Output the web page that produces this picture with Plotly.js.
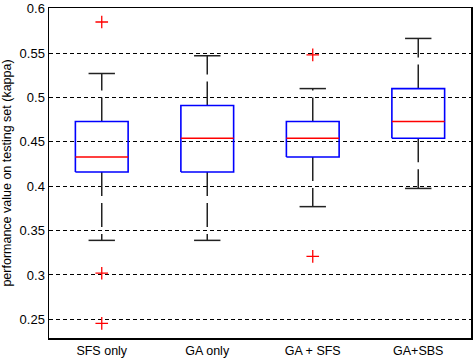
<!DOCTYPE html>
<html>
<head>
<meta charset="utf-8">
<script src="https://cdn.plot.ly/plotly-3.0.1.min.js"></script>
<style>html,body{margin:0;padding:0;background:#fff;}#chart{width:474px;height:358px;}</style>
</head>
<body>
<div id="chart"></div>
<script>
// ---- data ----
var categories = ['SFS only', 'GA only', 'GA + SFS', 'GA+SBS'];
var q1Values = [0.416, 0.416, 0.433, 0.454];
var medianValues = [0.433, 0.454, 0.454, 0.473];
var q3Values = [0.473, 0.491, 0.473, 0.510];
var lowerWhiskers = [0.339, 0.339, 0.377, 0.3975];
var upperWhiskers = [0.527, 0.547, 0.510, 0.5665];
var outlierGroup = [1, 1, 1, 3, 3];
var outlierValues = [0.585, 0.302, 0.2455, 0.548, 0.321];
var yTickValues = [0.25, 0.3, 0.35, 0.4, 0.45, 0.5, 0.55, 0.6];

// ---- build traces ----
var halfBox = 0.25, halfCap = 0.125;
var bx = [], by = [], mx = [], my = [], wx = [], wy = [], cx = [], cy = [];
for (var i = 0; i < categories.length; i++) {
  var p = i + 1;
  bx.push(p - halfBox, p + halfBox, p + halfBox, p - halfBox, p - halfBox, null);
  by.push(q1Values[i], q1Values[i], q3Values[i], q3Values[i], q1Values[i], null);
  mx.push(p - halfBox, p + halfBox, null);
  my.push(medianValues[i], medianValues[i], null);
  wx.push(p, p, null, p, p, null);
  wy.push(q3Values[i], upperWhiskers[i], null, q1Values[i], lowerWhiskers[i], null);
  cx.push(p - halfCap, p + halfCap, null, p - halfCap, p + halfCap, null);
  cy.push(upperWhiskers[i], upperWhiskers[i], null, lowerWhiskers[i], lowerWhiskers[i], null);
}

var traces = [
  {x: wx, y: wy, mode: 'lines', line: {color: '#222', width: 1.5, dash: '24px,7px'}, hoverinfo: 'skip'},
  {x: cx, y: cy, mode: 'lines', line: {color: '#222', width: 1.5}, hoverinfo: 'skip'},
  {x: bx, y: by, mode: 'lines', line: {color: '#0000ff', width: 1.6}, hoverinfo: 'skip'},
  {x: mx, y: my, mode: 'lines', line: {color: '#ff0000', width: 1.5}, hoverinfo: 'skip'},
  {x: outlierGroup, y: outlierValues, mode: 'markers',
   marker: {symbol: 'cross-thin-open', size: 9, color: '#ff0000', line: {color: '#ff0000', width: 1.3}}}
];

var layout = {
  width: 474, height: 358,
  margin: {l: 49, r: 3, t: 8, b: 20},
  showlegend: false,
  paper_bgcolor: '#fff', plot_bgcolor: '#fff',
  font: {family: 'Liberation Sans, Arial, sans-serif', color: '#000'},
  xaxis: {
    range: [0.5, 4.5], tickvals: [1, 2, 3, 4], ticktext: categories,
    showgrid: false, zeroline: false, showline: true, mirror: true,
    linecolor: '#000', linewidth: 1.5, ticks: '', tickfont: {size: 12.5}
  },
  yaxis: {
    range: [0.229, 0.6008], tickvals: yTickValues,
    ticktext: yTickValues.map(function(v){ return String(v); }),
    ticklabeloverflow: 'allow',
    showgrid: true, gridcolor: '#000', gridwidth: 1, griddash: '4px,3px',
    zeroline: false, showline: true, mirror: true,
    linecolor: '#000', linewidth: 1.5, ticks: '', tickfont: {size: 13},
    title: {text: 'performance value on testing set (kappa)', font: {size: 12.5}, standoff: 5}
  }
};

Plotly.newPlot('chart', traces, layout, {staticPlot: true});
</script>
</body>
</html>
